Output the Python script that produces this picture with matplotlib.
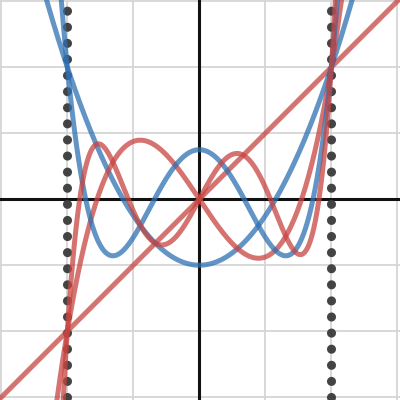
import numpy as np
import matplotlib
matplotlib.use("Agg")
import matplotlib.pyplot as plt
from numpy.polynomial import legendre as L

# Curves: scaled Legendre polynomials  y = 2 * P_n(x / 2)
degrees = [1, 2, 3, 4, 5]
curve_colors = ["#c74440", "#2d70b3", "#c74440", "#2d70b3", "#c74440"]
scale = 2.0
boundaries = [-2.0, 2.0]          # dotted vertical lines
grid_ticks = [-3, -2, -1, 0, 1, 2, 3]
xlim = (-3.02, 3.04)
ylim = (-3.042, 3.018)

fig = plt.figure(figsize=(4, 4), dpi=100)
ax = fig.add_axes([0, 0, 1, 1])
ax.set_xlim(*xlim)
ax.set_ylim(*ylim)
ax.set_axis_off()

# grid
for t in grid_ticks:
    if t == 0:
        continue
    ax.axvline(t, color="#d6d6d6", lw=1.3, zorder=0)
    ax.axhline(t, color="#d6d6d6", lw=1.3, zorder=0)
# axes
ax.axvline(0, color="#111111", lw=2.2, zorder=1)
ax.axhline(0, color="#111111", lw=2.2, zorder=1)

# dotted boundary lines
for b in boundaries:
    ax.plot([b, b], [-3.0, 3.2], color="#3a3a3a", alpha=0.95, lw=6.6,
            linestyle=(0, (0.001, 1.755)), dash_capstyle="round", zorder=2)

x = np.linspace(xlim[0], xlim[1], 2000)
for n, c in zip(degrees, curve_colors):
    coef = np.zeros(n + 1)
    coef[n] = 1.0
    y = scale * L.legval(x / scale, coef)
    ax.plot(x, y, color=c, lw=3.6, alpha=0.75, solid_capstyle="round", zorder=3)

fig.savefig("out.png", dpi=100)
